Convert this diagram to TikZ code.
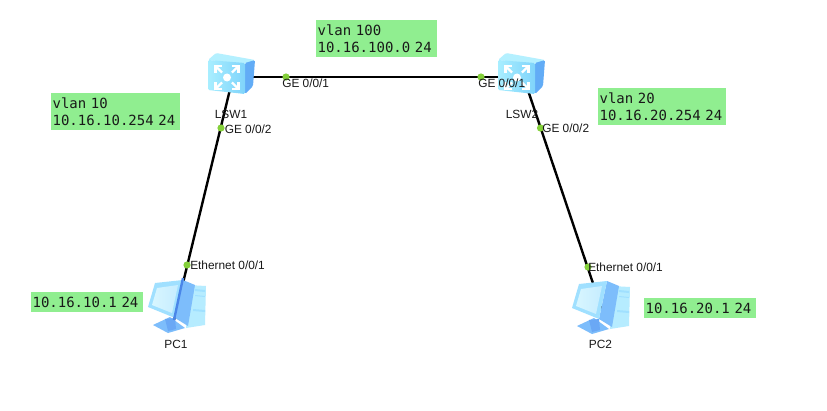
\documentclass[tikz,border=0pt]{standalone}
\usepackage{fontspec}
\setmainfont{Liberation Sans}
\newfontfamily\monofam{DejaVu Sans Mono}
\definecolor{lgreen}{HTML}{90EE90}
\definecolor{portgreen}{HTML}{84D03A}
\definecolor{swtop}{HTML}{B4F0FF}
\definecolor{swfrontA}{HTML}{A8EEFF}
\definecolor{swfrontB}{HTML}{80D4FB}
\definecolor{swside}{HTML}{62ACF6}
\definecolor{pcblue}{HTML}{7DBDFB}
\definecolor{pcstem}{HTML}{6AA8F5}
\definecolor{pclight}{HTML}{B6ECFF}
\definecolor{pcscreen}{HTML}{D8F6FF}
\definecolor{pcmid}{HTML}{A0E0FF}
\definecolor{pcline}{HTML}{4A86E8}
\tikzset{
  link/.style={line width=1.8pt,black},
  linkover/.style={line width=1.8pt,pcline},
  portdot/.style={circle,fill=portgreen,inner sep=0pt,minimum size=5.4pt},
  lbl/.style={font=\fontsize{8.9pt}{10pt}\selectfont,inner sep=0pt,text=black!90},
  note/.style={fill=lgreen,anchor=north west,inner xsep=1pt,inner ysep=0pt,align=left,
    font=\monofam\fontsize{10.5pt}{12.9pt}\selectfont,text=black!90},
  switchicon/.pic={
    \fill[swtop,rounded corners=1pt] (0,-2) -- (8,-9) -- (47,-2) -- (37,2) -- cycle;
    \fill[swside,rounded corners=1pt] (37,1) -- (47,-2) -- (45,24) -- (37,32) -- cycle;
    \shade[left color=swfrontA,right color=swfrontB,rounded corners=1pt] (0,-2) -- (37,1) -- (37,32) -- (0,28) -- cycle;
    \fill[white] (19,15.5) circle (4);
    \foreach \a in {45,135,225,315}{
      \begin{scope}[shift={(19,15.5)},rotate=\a]
        \draw[white,line width=1.8pt] (7,0) -- (16,0);
        \draw[white,line width=1.8pt] (11.5,-5) -- (16.5,0) -- (11.5,5);
      \end{scope}
    }
  },
  pcicon/.pic={
    \fill[pclight] (58,35) -- (76,36) -- (75,75) -- (56,78) -- cycle;
    \fill[pcmid] (65,39) -- (75,40) -- (75,42) -- (65,41) -- cycle;
    \fill[pcmid] (65,45) -- (75,46) -- (75,47) -- (65,46) -- cycle;
    \fill[pcmid] (63,59) -- (75,60) -- (75,62) -- (63,61) -- cycle;
    \fill[pcblue] (53,30) -- (65,35) -- (58,76) -- (45,68) -- cycle;
    \fill[pcblue] (23,75) -- (40,67) -- (55,78) -- (38,83) -- cycle;
    \fill[pcstem] (35,69) -- (45,68) -- (46,79) -- (38,81) -- cycle;
    \fill[pcmid] (25,33) -- (53,30) -- (45,68) -- (18,57) -- cycle;
    \shade[left color=pcscreen,right color=pcmid!60!white] (27,38) -- (48,35) -- (42,63) -- (22,55) -- cycle;
  }
}
\begin{document}
\begin{tikzpicture}[x=0.75pt,y=-0.75pt]
\useasboundingbox (0,0) rectangle (827,410);
\fill[white] (0,0) rectangle (827,410);
% device anchors
\coordinate (sw1) at (233,77);
\coordinate (sw2) at (523.5,77);
\coordinate (pc1) at (174,320);
\coordinate (pc1top) at (183,278);
\coordinate (pc2) at (602,310);
% connectors
\draw[link] (sw1) -- (sw2);
\draw[link] (sw1) -- (pc1);
\draw[link] (sw2) -- (pc2);
% icons
\pic at (208,62) {switchicon};
\pic at (498,62) {switchicon};
\pic at (130,250) {pcicon};
\pic at (554,251) {pcicon};
\draw[linkover] (pc1top) -- (pc1);
% port dots
\node[portdot] (d1) at (286,77) {};
\node[portdot] (d2) at (481,77) {};
\node[portdot] (d3) at (221,128) {};
\node[portdot] (d4) at (540.5,128) {};
\node[portdot] (d5) at (187,265) {};
\node[portdot] (d6) at (588,267) {};
% labels
\node[lbl,anchor=west] (t1) at (282,83) {GE 0/0/1};
\node[lbl,anchor=west] (t2) at (478,83.5) {GE 0/0/1};
\node[lbl,anchor=west] (t3) at (224.5,129) {GE 0/0/2};
\node[lbl,anchor=west] (t4) at (542,128) {GE 0/0/2};
\node[lbl,anchor=west] (t5) at (190,265) {Ethernet 0/0/1};
\node[lbl,anchor=west] (t6) at (588,267) {Ethernet 0/0/1};
\node[lbl] (n1) at (231,114) {LSW1};
\node[lbl] (n2) at (522,114) {LSW2};
\node[lbl] (n3) at (176,344) {PC1};
\node[lbl] (n4) at (600.5,344) {PC2};
% notes
\node[note,text width=94.75pt,minimum height=27.75pt] (v10) at (51,93) {vlan 10\\10.16.10.254 24};
\node[note,text width=88.75pt,minimum height=27.75pt] (v100) at (316,20) {vlan 100\\10.16.100.0 24};
\node[note,text width=94pt,minimum height=27.75pt] (v20) at (598,88) {vlan 20\\10.16.20.254 24};
\node[note,text width=82pt,minimum height=15pt] (p1) at (31,292) {10.16.10.1 24};
\node[note,text width=82pt,minimum height=15pt] (p2) at (644,298) {10.16.20.1 24};
\end{tikzpicture}
\end{document}
